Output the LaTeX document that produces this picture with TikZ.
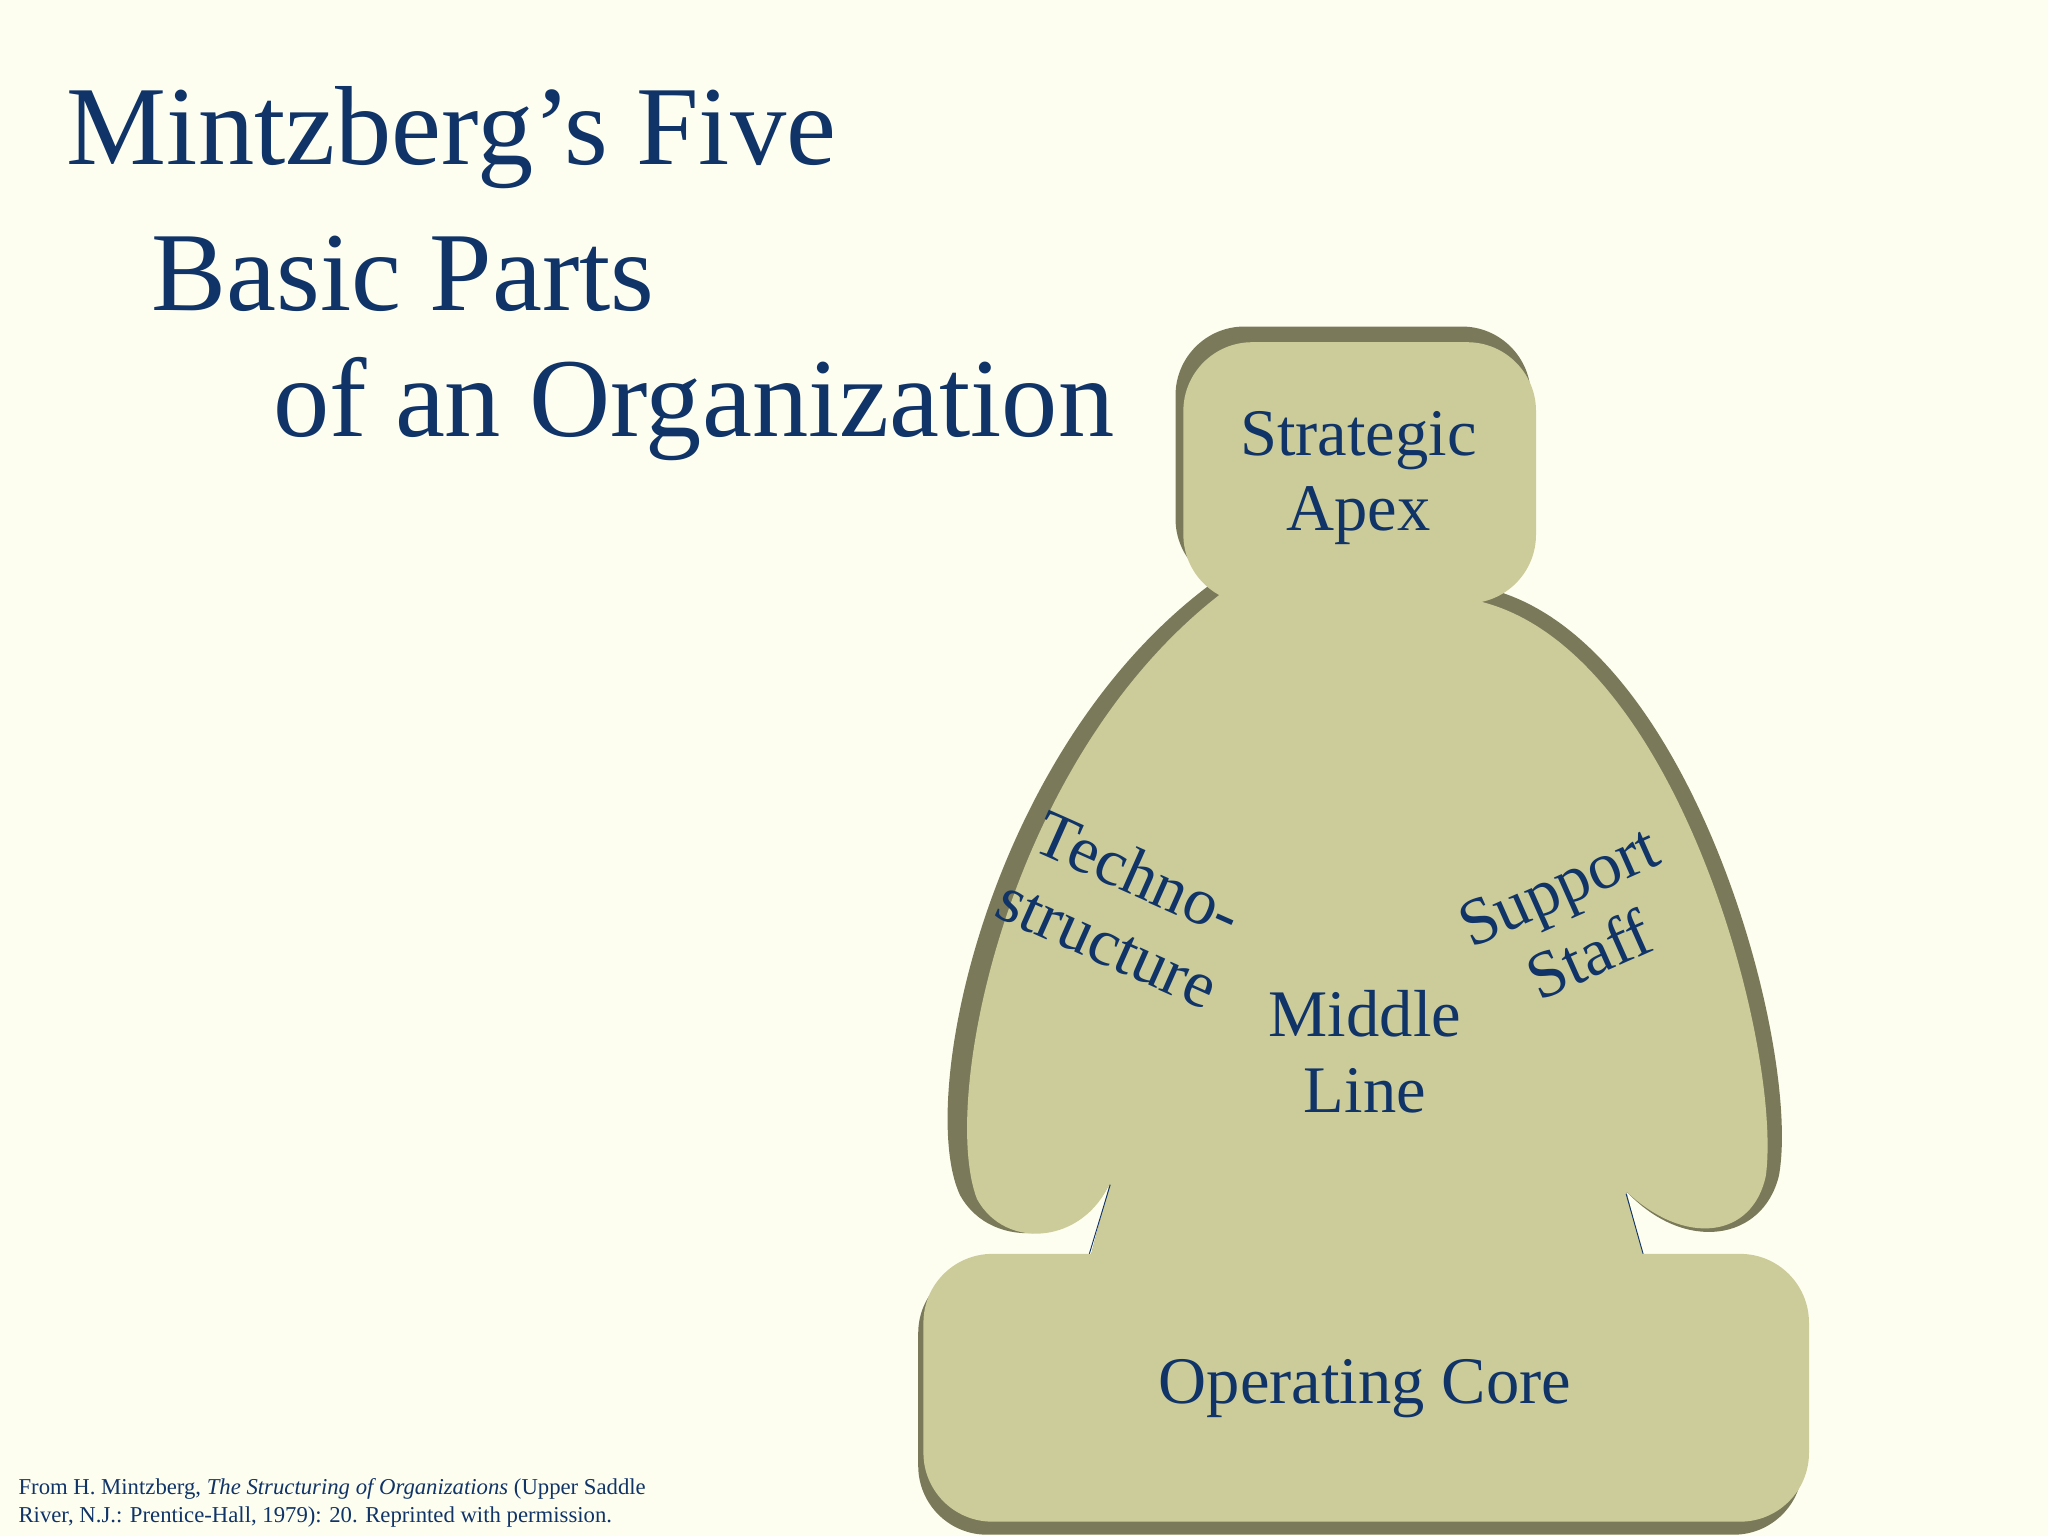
\documentclass[tikz,border=0pt]{standalone}
\usepackage{fontspec}
\setmainfont{Liberation Serif}
\usetikzlibrary{positioning}
\definecolor{paper}{RGB}{254,254,240}
\definecolor{navy}{RGB}{16,52,104}
\definecolor{khaki}{RGB}{204,204,154}
\definecolor{rim}{RGB}{122,122,90}

\begin{document}
\begin{tikzpicture}[x=0.02cm, y=-0.02cm,
    label/.style={text=navy, font=\fontsize{29}{33}\selectfont, align=center},
    part/.style={fill=khaki, rounded corners=30},
    shade/.style={fill=rim, rounded corners=30}
]
\fill[paper] (0,0) rectangle (1568,1176);
\useasboundingbox (0,0) rectangle (1568,1176);

% title
\node[anchor=west, text=navy, font=\fontsize{49}{56}\selectfont] (t1) at (45,105) {Mintzberg’s Five};
\node[anchor=west, text=navy, font=\fontsize{49}{56}\selectfont] (t2) at (110,210) {Basic Parts};
\node[anchor=west, text=navy, font=\fontsize{49}{56}\selectfont] (t3) at (203,313) {of an Organization};

% middle line body
\fill[rim] (850,905) .. controls (830,950) and (760,960) .. (735,915)
  .. controls (700,840) and (760,560) .. (940,438)
  -- (1125,448) .. controls (1290,470) and (1380,800) .. (1362,900)
  .. controls (1350,950) and (1290,960) .. (1245,912)
  -- (1258,962) -- (835,962) -- cycle;
\fill[khaki] (850,905) .. controls (830,952) and (770,958) .. (748,918)
  .. controls (718,840) and (775,560) .. (955,440)
  -- (1120,458) .. controls (1280,480) and (1365,800) .. (1352,900)
  .. controls (1342,948) and (1290,955) .. (1245,912)
  -- (1258,962) -- (835,962) -- cycle;
\draw[navy] (850,907) -- (834,960);
\draw[navy] (1245,914) -- (1258,960);

% strategic apex
\fill[shade] (900,250) rectangle (1172,450);
\fill[part] (906,262) rectangle (1176,462);

% operating core
\fill[shade] (703,968) rectangle (1380,1175);
\fill[part] (707,960) rectangle (1385,1165);

% labels
\node[label] (apex) at (1040,366) {Strategic\\Apex};
\node[label] (middle) at (1045,805) {Middle\\Line};
\node[label, rotate=-24] (techno) at (860,695) {Techno-\\structure};
\node[label, rotate=24] (support) at (1205,705) {Support\\Staff};
\node[label] (core) at (1045,1063) {Operating Core};

% source
\node[anchor=north west, text=navy, align=left, font=\fontsize{9.9}{12}\selectfont] (src) at (8,1126)
  {From H. Mintzberg, \textit{The Structuring of Organizations} (Upper Saddle\\River, N.J.: Prentice-Hall, 1979): 20. Reprinted with permission.};
\end{tikzpicture}
\end{document}
